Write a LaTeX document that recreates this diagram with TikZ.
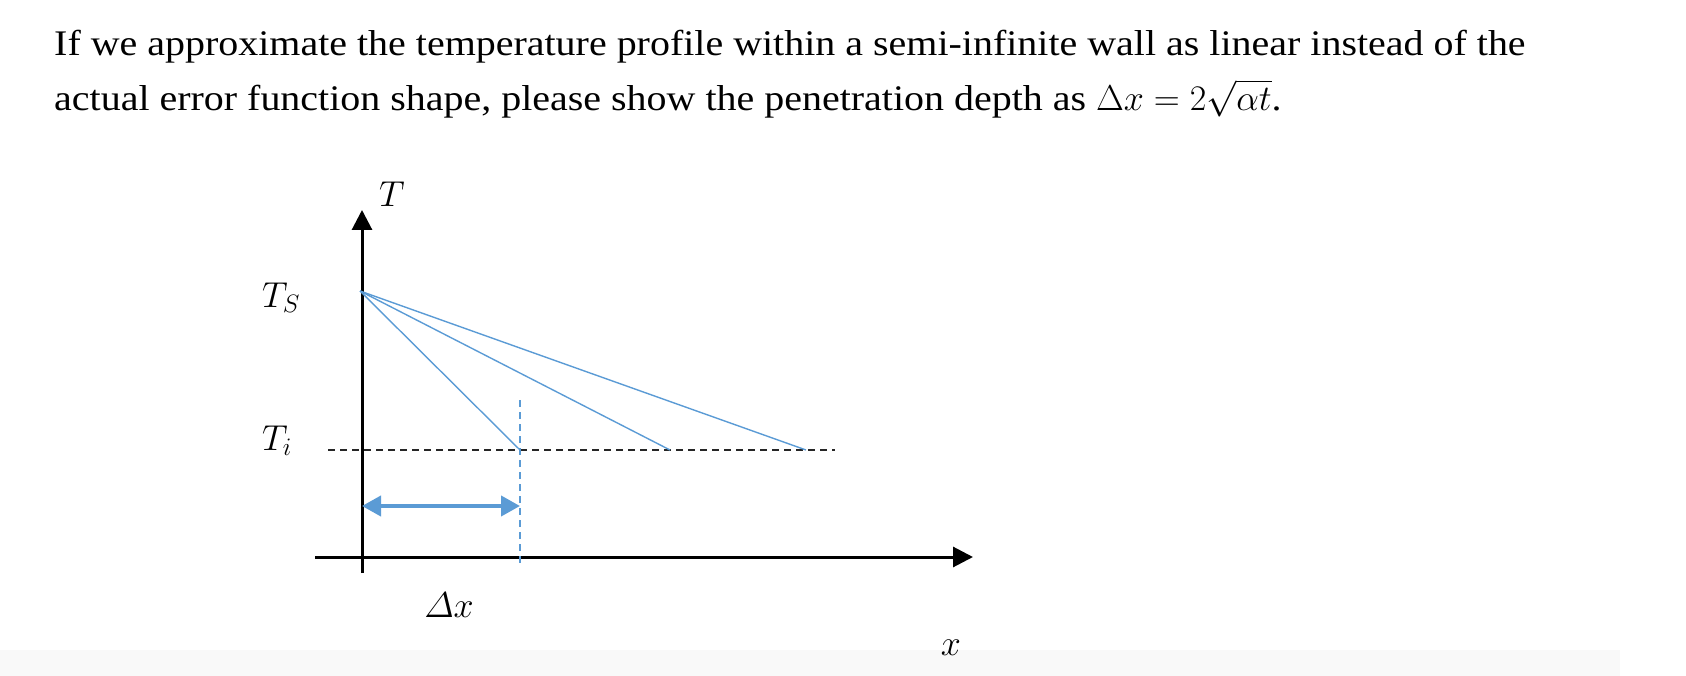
\RequirePackage{fix-cm}
\documentclass[tikz,border=0pt]{standalone}
\usepackage{amsmath}
\usepackage{fontspec}
\setmainfont[FakeStretch=1.11]{Liberation Serif}
\usetikzlibrary{arrows.meta}
\definecolor{lineblue}{HTML}{5B9BD5}
\begin{document}
\begin{tikzpicture}[x=1pt,y=-1pt,
  txt/.style={inner sep=0pt,align=left,font=\fontsize{36}{55}\selectfont},
  lbl/.style={inner sep=0pt,font=\fontsize{36}{42}\selectfont},
  axis/.style={line width=3pt,-{Triangle[length=20pt,width=20pt]}},
  profile/.style={lineblue,line width=1.4pt},
  guide/.style={dash pattern=on 7pt off 5pt,line width=1.4pt},
  dbl/.style={lineblue,line width=4pt,{Triangle[length=19pt,width=20pt]}-{Triangle[length=19pt,width=20pt]}}]
\useasboundingbox (0,0) rectangle (1686,676);
\fill[black!2.5] (0,650) rectangle (1620,676);
% title (base anchor = baseline of the last line)
\node[txt,anchor=base west] (title) at (54,111) {If we approximate the temperature profile within a semi-infinite wall as linear instead of the\\actual error function shape, please show the penetration depth as $\Delta x = 2\sqrt{\alpha t}$.};
% coordinates
\coordinate (ybot) at (362,573);
\coordinate (ytop) at (362,210);
\coordinate (xl) at (315,557);
\coordinate (xr) at (973,557);
\coordinate (s) at (360,291);
\coordinate (p1) at (520,450);
\coordinate (p2) at (670,450);
\coordinate (p3) at (806,450);
\coordinate (dl) at (328,450);
\coordinate (dr) at (835,450);
\coordinate (vt) at (520,400);
\coordinate (vb) at (520,566);
\coordinate (al) at (362,506);
\coordinate (ar) at (520,506);
% axes
\draw[axis] (ybot) -- (ytop);
\draw[axis] (xl) -- (xr);
% guides
\draw[guide,black!85] (dl) -- (dr);
\draw[guide,lineblue] (vt) -- (vb);
% profiles
\draw[profile] (s) -- (p1);
\draw[profile] (s) -- (p2);
\draw[profile] (s) -- (p3);
% penetration arrow
\draw[dbl] (al) -- (ar);
% labels
\node[lbl,anchor=base] (T) at (392,207) {$T$};
\node[lbl,anchor=base] (Ts) at (281,307) {$T_S$};
\node[lbl,anchor=base] (Ti) at (277,450) {$T_i$};
\node[lbl,anchor=base] (dx) at (449,617) {$\varDelta x$};
\node[lbl,anchor=base] (x) at (951,655) {$x$};
\end{tikzpicture}
\end{document}
